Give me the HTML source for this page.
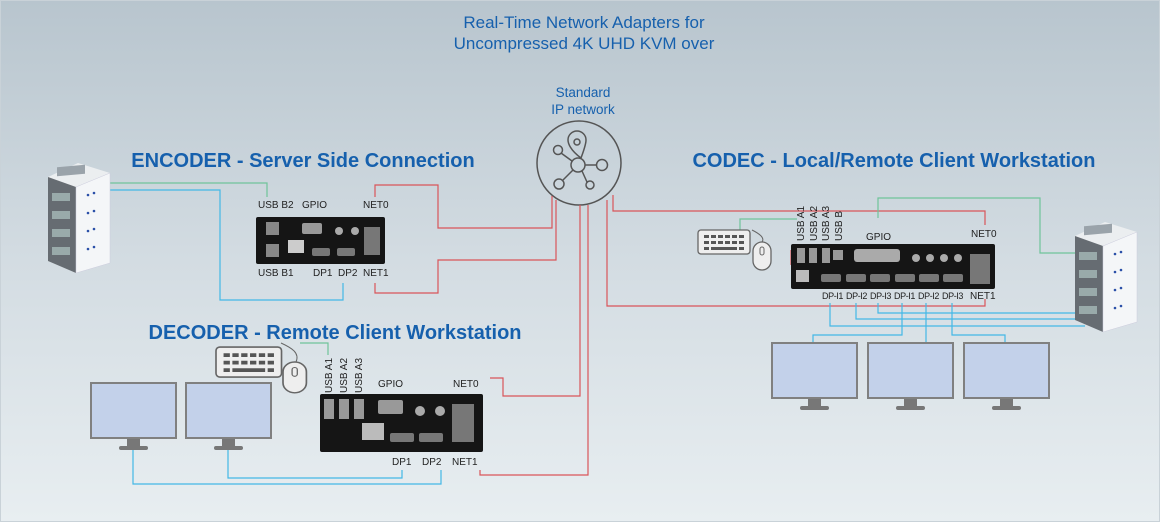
<!DOCTYPE html>
<html><head><meta charset="utf-8"><style>
body{margin:0;width:1160px;height:522px;overflow:hidden;background:#fff}
svg{display:block}
text{font-family:"Liberation Sans",sans-serif}
</style></head><body>
<svg width="1160" height="522" viewBox="0 0 1160 522" xmlns="http://www.w3.org/2000/svg">
<defs>
<linearGradient id="bg" x1="0" y1="0" x2="0" y2="1">
<stop offset="0" stop-color="#b8c5ce"/><stop offset="0.5" stop-color="#d3dce2"/><stop offset="1" stop-color="#e8eef1"/></linearGradient>
<g id="mon"><rect x="0" y="0" width="85" height="55" fill="#c3d1ea" stroke="#808080" stroke-width="2"/><rect x="36" y="56" width="13" height="8" fill="#777"/><rect x="28" y="63" width="29" height="4" rx="2" fill="#777"/></g>
<g id="srv"><path d="M0 14 L30 0 L62 10 L62 100 L28 110 L0 98 Z" fill="#ebeef0"/><path d="M0 14 L28 24 L28 110 L0 98Z" fill="#666c72"/><path d="M28 24 L62 10 L62 100 L28 110Z" fill="#f4f6f8" stroke="#ccd" stroke-width="0.5"/><rect x="9" y="5" width="28" height="9" fill="#9aa3aa" transform="skewY(-5)"/>
<g fill="#9aa"><rect x="4" y="30" width="18" height="8"/><rect x="4" y="48" width="18" height="8"/><rect x="4" y="66" width="18" height="8"/><rect x="4" y="84" width="18" height="8"/></g>
<g fill="#2a4fa8"><circle cx="40" cy="32" r="1.3"/><circle cx="46" cy="30" r="1.3"/><circle cx="40" cy="50" r="1.3"/><circle cx="46" cy="48" r="1.3"/><circle cx="40" cy="68" r="1.3"/><circle cx="46" cy="66" r="1.3"/><circle cx="40" cy="86" r="1.3"/><circle cx="46" cy="84" r="1.3"/></g></g>
<g id="kb"><rect x="0" y="0" width="52" height="24" rx="3" fill="#eee" stroke="#666" stroke-width="1.3"/><g fill="#555"><rect x="6" y="5" width="5" height="3"/><rect x="13" y="5" width="5" height="3"/><rect x="20" y="5" width="5" height="3"/><rect x="27" y="5" width="5" height="3"/><rect x="34" y="5" width="5" height="3"/><rect x="41" y="5" width="5" height="3"/><rect x="6" y="11" width="5" height="3"/><rect x="13" y="11" width="5" height="3"/><rect x="20" y="11" width="5" height="3"/><rect x="27" y="11" width="5" height="3"/><rect x="34" y="11" width="5" height="3"/><rect x="41" y="11" width="5" height="3"/><rect x="6" y="17" width="5" height="3"/><rect x="13" y="17" width="26" height="3"/><rect x="41" y="17" width="5" height="3"/></g></g>
<g id="mouse"><rect x="0" y="0" width="18" height="28" rx="9" fill="#eee" stroke="#666" stroke-width="1.3"/><rect x="7" y="5" width="4" height="8" rx="2" fill="none" stroke="#666"/></g>
</defs>
<rect width="1160" height="522" fill="url(#bg)"/>
<rect x="0.5" y="0.5" width="1159" height="521" fill="none" stroke="#c9d2d8"/>

<text x="584" y="28" text-anchor="middle" font-size="17" fill="#1660ad">Real-Time Network Adapters for</text>
<text x="584" y="49" text-anchor="middle" font-size="17" fill="#1660ad">Uncompressed 4K UHD KVM over</text>
<text x="583" y="97" text-anchor="middle" font-size="13.5" fill="#1660ad">Standard</text>
<text x="583" y="114" text-anchor="middle" font-size="13.5" fill="#1660ad">IP network</text>
<text x="303" y="167" text-anchor="middle" font-size="20" font-weight="bold" fill="#1660ad">ENCODER - Server Side Connection</text>
<text x="335" y="339" text-anchor="middle" font-size="20" font-weight="bold" fill="#1660ad">DECODER - Remote Client Workstation</text>
<text x="894" y="167" text-anchor="middle" font-size="20" font-weight="bold" fill="#1660ad">CODEC - Local/Remote Client Workstation</text>

<!-- network icon -->
<g stroke="#555" stroke-width="1.5" fill="none">
<circle cx="579" cy="163" r="42"/>
<circle cx="578" cy="165" r="7"/>
<path d="M581 158 C570 150 568 143 568 140 A9 9 0 0 1 586 140 C586 144 584 150 581 158Z"/><circle cx="577" cy="142" r="3"/>
<circle cx="558" cy="150" r="4.5"/><line x1="561" y1="153" x2="572" y2="161"/>
<circle cx="602" cy="165" r="5.5"/><line x1="585" y1="165" x2="596" y2="165"/>
<circle cx="559" cy="184" r="5"/><line x1="563" y1="180" x2="573" y2="170"/>
<circle cx="590" cy="185" r="4"/><line x1="587" y1="182" x2="582" y2="171"/>
</g>

<!-- red lines -->
<g stroke="#d9555a" stroke-width="1.2" fill="none">
<polyline points="375,197 375,185 438,185 438,228 552,228 552,196"/>
<polyline points="375,283 375,293 438,293 438,260 556,260 556,200"/>
<polyline points="490,378 503,378 503,396 580,396 580,205"/>
<polyline points="480,470 480,475 588,475 588,205"/>
<polyline points="613,195 613,211 985,211 985,225"/>
<polyline points="607,200 607,306 985,306 985,299"/>
<line x1="791" y1="250" x2="791" y2="265"/>
</g>
<!-- green lines -->
<g stroke="#6fc49a" stroke-width="1.2" fill="none">
<polyline points="110,183 267,183 267,197"/>
<polyline points="878,218 878,198 1040,198 1040,253 1075,253"/>
<polyline points="740,240 740,219 797,219"/>
<polyline points="300,343 328,343 328,355"/>
</g>
<!-- blue lines -->
<g stroke="#43b8e6" stroke-width="1.2" fill="none">
<polyline points="110,190 220,190 220,300 343,300 343,283"/>
<polyline points="133,450 133,484 441,484 441,470"/>
<polyline points="228,450 228,478 402,478 402,470"/>
<polyline points="830,303 830,326 1085,326"/>
<polyline points="856,303 856,319 1085,319"/>
<polyline points="878,303 878,313 1085,313"/>
<polyline points="902,303 902,335 813,335 813,343"/>
<polyline points="926,303 926,343"/>
<polyline points="952,303 952,335 1005,335 1005,343"/>
</g>
<g stroke="#666" stroke-width="1" fill="none">
<path d="M281 343 C292 348 300 353 296 362"/>
<path d="M752 230 C760 234 765 238 762 242"/>
</g>

<!-- devices -->
<use href="#srv" x="48" y="163"/>
<use href="#srv" x="1075" y="222"/>
<use href="#mon" x="91" y="383"/>
<use href="#mon" x="186" y="383"/>
<use href="#mon" x="772" y="343"/>
<use href="#mon" x="868" y="343"/>
<use href="#mon" x="964" y="343"/>
<g transform="translate(216 347) scale(1.26 1.25)"><use href="#kb"/></g>
<g transform="translate(283 362) scale(1.3 1.1)"><use href="#mouse"/></g>
<use href="#kb" x="698" y="230"/>
<use href="#mouse" x="753" y="242"/>

<!-- encoder board -->
<g>
<rect x="256" y="217" width="129" height="47" rx="2" fill="#151515"/>
<rect x="266" y="222" width="13" height="13" fill="#888"/><rect x="266" y="244" width="13" height="13" fill="#888"/>
<rect x="302" y="223" width="20" height="11" rx="2" fill="#999"/>
<rect x="288" y="240" width="16" height="13" fill="#ccc"/>
<rect x="312" y="248" width="18" height="8" rx="2" fill="#777"/><rect x="337" y="248" width="18" height="8" rx="2" fill="#777"/>
<circle cx="339" cy="231" r="4" fill="#aaa"/><circle cx="355" cy="231" r="4" fill="#aaa"/>
<rect x="364" y="227" width="16" height="28" fill="#777"/>
</g>
<!-- decoder board -->
<g>
<rect x="320" y="394" width="163" height="58" rx="2" fill="#151515"/>
<rect x="324" y="399" width="10" height="20" fill="#999"/><rect x="339" y="399" width="10" height="20" fill="#999"/><rect x="354" y="399" width="10" height="20" fill="#999"/>
<rect x="378" y="400" width="25" height="14" rx="2" fill="#999"/>
<rect x="362" y="423" width="22" height="17" fill="#bbb"/>
<rect x="390" y="433" width="24" height="9" rx="2" fill="#777"/><rect x="419" y="433" width="24" height="9" rx="2" fill="#777"/>
<circle cx="420" cy="411" r="5" fill="#aaa"/><circle cx="440" cy="411" r="5" fill="#aaa"/>
<rect x="452" y="404" width="22" height="38" fill="#777"/>
</g>
<!-- codec board -->
<g>
<rect x="791" y="244" width="204" height="45" rx="2" fill="#151515"/>
<rect x="797" y="248" width="8" height="15" fill="#999"/><rect x="809" y="248" width="8" height="15" fill="#999"/><rect x="822" y="248" width="8" height="15" fill="#999"/>
<rect x="833" y="250" width="10" height="10" fill="#999"/>
<rect x="854" y="249" width="46" height="13" rx="3" fill="#aaa"/>
<circle cx="916" cy="258" r="4" fill="#aaa"/><circle cx="930" cy="258" r="4" fill="#aaa"/><circle cx="944" cy="258" r="4" fill="#aaa"/><circle cx="958" cy="258" r="4" fill="#aaa"/>
<rect x="796" y="270" width="13" height="12" fill="#bbb"/>
<rect x="821" y="274" width="20" height="8" rx="2" fill="#777"/><rect x="846" y="274" width="20" height="8" rx="2" fill="#777"/><rect x="870" y="274" width="20" height="8" rx="2" fill="#777"/>
<rect x="895" y="274" width="20" height="8" rx="2" fill="#777"/><rect x="919" y="274" width="20" height="8" rx="2" fill="#777"/><rect x="943" y="274" width="20" height="8" rx="2" fill="#777"/>
<rect x="970" y="254" width="20" height="30" fill="#777"/>
</g>

<!-- port labels -->
<g font-size="10" fill="#222">
<text x="258" y="208">USB B2</text><text x="302" y="208">GPIO</text><text x="363" y="208">NET0</text>
<text x="258" y="276">USB B1</text><text x="313" y="276">DP1</text><text x="338" y="276">DP2</text><text x="363" y="276">NET1</text>
<text x="378" y="387">GPIO</text><text x="453" y="387">NET0</text>
<text x="392" y="465">DP1</text><text x="422" y="465">DP2</text><text x="452" y="465">NET1</text>
<text transform="translate(332,393) rotate(-90)">USB A1</text>
<text transform="translate(347,393) rotate(-90)">USB A2</text>
<text transform="translate(362,393) rotate(-90)">USB A3</text>
<text x="866" y="240">GPIO</text><text x="971" y="237">NET0</text>
<text transform="translate(804,241) rotate(-90)">USB A1</text>
<text transform="translate(817,241) rotate(-90)">USB A2</text>
<text transform="translate(829,241) rotate(-90)">USB A3</text>
<text transform="translate(842,241) rotate(-90)">USB B</text>
<g font-size="9" letter-spacing="-0.4">
<text x="822" y="299">DP-I1</text><text x="846" y="299">DP-I2</text><text x="870" y="299">DP-I3</text><text x="894" y="299">DP-I1</text><text x="918" y="299">DP-I2</text><text x="942" y="299">DP-I3</text></g><text x="970" y="299">NET1</text>
</g>
</svg>
</body></html>
